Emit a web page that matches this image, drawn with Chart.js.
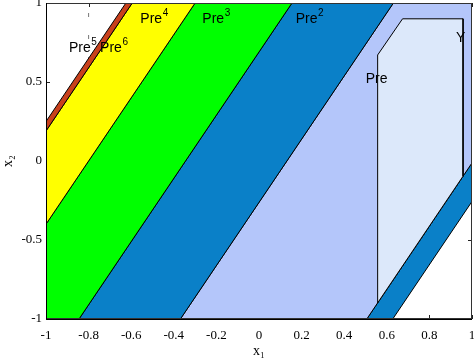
<!DOCTYPE html>
<html>
<head>
<meta charset="utf-8">
<script src="https://cdn.jsdelivr.net/npm/chart.js@4.4.1/dist/chart.umd.min.js"></script>
<style>
  html, body { margin: 0; padding: 0; background: #fff; }
  #wrap { width: 474px; height: 360px; }
</style>
</head>
<body>
<div id="wrap"><canvas id="regionChart" width="474" height="360"></canvas></div>
<script>
// ===== DATA =====
const xTicks = [-1, -0.8, -0.6, -0.4, -0.2, 0, 0.2, 0.4, 0.6, 0.8, 1];
const yTicks = [-1, -0.5, 0, 0.5, 1];

// region corners as [x1, x2]
const pre6Strip  = [[-1, 0.25], [-0.625, 1], [-0.595, 1], [-1, 0.19]];
const pre4Region = [[-1, 0.19], [-0.595, 1], [-0.30, 1], [-1, -0.40]];
const pre3Region = [[-1, -0.40], [-0.30, 1], [0.155, 1], [-0.845, -1], [-1, -1]];
const pre2Region = [[-0.845, -1], [0.155, 1], [0.631, 1], [-0.369, -1]];
const preRegion  = [[-0.369, -1], [0.631, 1], [1, 1], [1, -0.012], [0.506, -1]];
const lowStrip   = [[0.506, -1], [1, -0.012], [1, -0.256], [0.628, -1]];
const yRegion    = [[0.557, -0.898], [0.557, 0.671], [0.674, 0.9], [0.958, 0.9], [0.958, -0.096]];
const dashedX = [-0.8, 1];

// text labels (left / baseline position in data units)
const labelText = ["Pre", "Pre", "Pre", "Pre", "Pre", "Pre", "Y"];
const labelSup  = ["5", "6", "4", "3", "2", "", ""];
const labelX = [-0.892, -0.746, -0.557, -0.266, 0.172, 0.501, 0.925];
const labelY = [0.69, 0.69, 0.873, 0.873, 0.873, 0.494, 0.753];

// ===== HELPERS =====
function toPoints(corners) {
  const pts = corners.map(([x, y]) => ({ x, y }));
  pts.push({ ...pts[0] });   // close the outline
  return pts;
}

function region(corners, color) {
  return {
    data: toPoints(corners),
    showLine: true,
    fill: 'shape',
    backgroundColor: color,
    borderColor: '#000',
    borderWidth: 1,
    pointRadius: 0,
    tension: 0
  };
}

// matlab style tick text: -1, -0.8, 0, 1
const tickText = v => String(Math.round(v * 10) / 10);

// inner ticks + box + text on top
const axesDecor = {
  id: 'axesDecor',
  beforeDatasetsDraw(chart) {
    const { ctx, chartArea: a, scales: { x, y } } = chart;
    ctx.save();
    ctx.strokeStyle = '#222';
    ctx.lineWidth = 1;
    ctx.beginPath();
    xTicks.forEach(v => {
      const px = Math.round(x.getPixelForValue(v)) + 0.5;
      ctx.moveTo(px, a.bottom); ctx.lineTo(px, a.bottom - 4);
      ctx.moveTo(px, a.top); ctx.lineTo(px, a.top + 4);
    });
    yTicks.forEach(v => {
      const py = Math.round(y.getPixelForValue(v)) + 0.5;
      ctx.moveTo(a.left, py); ctx.lineTo(a.left + 4, py);
      ctx.moveTo(a.right, py); ctx.lineTo(a.right - 4, py);
    });
    ctx.stroke();
    ctx.restore();
  },
  afterDatasetsDraw(chart) {
    const { ctx, chartArea: a, scales: { x, y } } = chart;
    ctx.save();
    // box
    ctx.strokeStyle = '#333';
    ctx.lineWidth = 1;
    ctx.strokeRect(a.left + 0.5, a.top + 0.5, a.right - a.left - 1, a.bottom - a.top - 1);
    ctx.strokeStyle = '#000';
    ctx.beginPath();
    ctx.moveTo(a.left + 0.5, a.top); ctx.lineTo(a.left + 0.5, a.bottom + 0.5);
    ctx.lineTo(a.right, a.bottom + 0.5);
    ctx.stroke();

    // labels
    ctx.fillStyle = '#000';
    ctx.textBaseline = 'alphabetic';
    ctx.textAlign = 'left';
    labelText.forEach((t, i) => {
      const px = x.getPixelForValue(labelX[i]);
      const py = y.getPixelForValue(labelY[i]);
      ctx.font = '14px "Liberation Sans", Arial, sans-serif';
      ctx.fillText(t, px, py);
      if (labelSup[i]) {
        const w = ctx.measureText(t).width;
        ctx.font = '10px "Liberation Sans", Arial, sans-serif';
        ctx.fillText(labelSup[i], px + w + 0.5, py - 7);
      }
    });
    ctx.restore();
  }
};

// ===== CHART =====
const serif = { family: '"Liberation Serif", "Times New Roman", serif', size: 13 };

const datasets = [
  region(yRegion, '#dce8fa'),
  region(pre6Strip, '#c8401c'),
  region(pre4Region, '#ffff00'),
  region(pre3Region, '#00ff00'),
  region(pre2Region, '#0a80c8'),
  region(preRegion, '#b4c6fa'),
  region(lowStrip, '#0a80c8')
];
dashedX.forEach(v => {
  datasets.push({
    data: [{ x: v, y: 1 }, { x: v, y: -1 }],
    showLine: true,
    fill: false,
    borderColor: '#777',
    borderWidth: 1,
    borderDash: [4, 18],
    borderDashOffset: 12,
    pointRadius: 0
  });
});

new Chart(document.getElementById('regionChart'), {
  type: 'scatter',
  data: { datasets },
  options: {
    responsive: false,
    animation: false,
    layout: { padding: { top: 3, right: 2, left: 0, bottom: 0 } },
    plugins: { legend: { display: false }, tooltip: { enabled: false } },
    scales: {
      x: {
        type: 'linear', min: -1, max: 1,
        afterBuildTicks: s => { s.ticks = xTicks.map(v => ({ value: v })); },
        ticks: { autoSkip: false, maxRotation: 0, padding: 9, color: '#000', font: serif,
                 callback: tickText },
        grid: { display: true, drawOnChartArea: false, drawTicks: false },
        border: { display: false },
        title: { display: true, text: 'x₁', color: '#000', padding: 0,
                 font: { family: serif.family, size: 14 } },
        afterFit: s => { s.height = 41; s.paddingLeft = 0; s.paddingRight = 0; }
      },
      y: {
        type: 'linear', min: -1, max: 1,
        afterBuildTicks: s => { s.ticks = yTicks.map(v => ({ value: v })); },
        ticks: { autoSkip: false, padding: 4, color: '#000', font: serif,
                 callback: tickText },
        grid: { display: true, drawOnChartArea: false, drawTicks: false },
        border: { display: false },
        title: { display: true, text: 'x₂', color: '#000', padding: 0,
                 font: { family: serif.family, size: 14 } },
        afterFit: s => { s.width = 46; s.paddingTop = 0; s.paddingBottom = 0; }
      }
    }
  },
  plugins: [axesDecor]
});
</script>
</body>
</html>
